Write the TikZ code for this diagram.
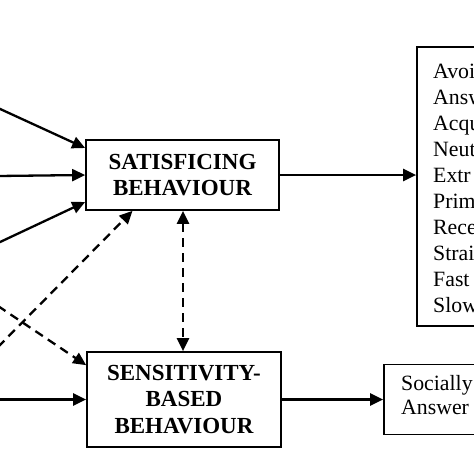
\documentclass[tikz,border=0pt]{standalone}
\usepackage{fontspec}
\setmainfont{Liberation Serif}
\usetikzlibrary{arrows.meta,positioning}
\tikzset{
  box/.style={draw, line width=1.7pt, rectangle, inner sep=0pt, align=center},
  boldtxt/.style={font=\bfseries\fontsize{23}{26.5}\selectfont},
  plaintxt/.style={font=\fontsize{21.8}{24}\selectfont, inner sep=0pt, anchor=base west},
  arr/.style={line width=2.3pt, -{Triangle[length=13pt,width=12pt]}},
  darr/.style={arr, dash pattern=on 9pt off 6pt},
  ddarr/.style={line width=2.3pt, dash pattern=on 9pt off 6pt, {Triangle[length=13pt,width=12pt]}-{Triangle[length=13pt,width=12pt]}},
}
\begin{document}
\begin{tikzpicture}[x=1pt,y=-1pt]
\useasboundingbox (0,0) rectangle (474,474);
\fill[white] (0,0) rectangle (474,474);
\begin{scope}
\clip (0,0) rectangle (474,474);
\node[box, boldtxt, minimum width=193pt, minimum height=70pt] (sat) at (182.5,175) {SATISFICING\\BEHAVIOUR};
\node[box, boldtxt, minimum width=194pt, minimum height=95pt] (sens) at (184,399.5) {SENSITIVITY-\\BASED\\BEHAVIOUR};
\node[box, minimum width=103pt, minimum height=279pt] (list) at (468.5,186.5) {};
\node[box, minimum width=136pt, minimum height=70pt] (soc) at (452,399.5) {};
\node[plaintxt] (l1) at (433,78) {Avoi};
\node[plaintxt] (l2) at (433,104) {Answ};
\node[plaintxt] (l3) at (433,130) {Acqu};
\node[plaintxt] (l4) at (433,156) {Neut};
\node[plaintxt] (l5) at (433,182) {Extr};
\node[plaintxt] (l6) at (433,208) {Prim};
\node[plaintxt] (l7) at (433,234) {Rece};
\node[plaintxt] (l8) at (433,260) {Strai};
\node[plaintxt] (l9) at (433,286) {Fast};
\node[plaintxt] (l10) at (433,312) {Slow};
\node[plaintxt] (s1t) at (401,390) {Socially};
\node[plaintxt] (s2t) at (401,414) {Answer};
\coordinate (s1) at (-2,108);
\coordinate (s2) at (-2,176);
\coordinate (s3) at (-2,243);
\coordinate (d1) at (-2,347);
\coordinate (d2) at (-2,306);
\coordinate (s4) at (-2,399.5);
\draw[arr] (s1) -- ([yshift=27pt]sat.west);
\draw[arr] (s2) -- (sat.west);
\draw[arr] (s3) -- ([yshift=-27pt]sat.west);
\draw[darr] (d1) -- ([xshift=-50pt]sat.south);
\draw[darr] (d2) -- ([yshift=-14pt]sens.north west);
\draw[arr] (s4) -- (sens.west);
\draw[ddarr] ([xshift=0.5pt]sat.south) -- ([xshift=0.5pt]sat.south |- sens.north);
\draw[arr] (sat.east) -- (sat.east -| list.west);
\draw[arr] (sens.east) -- (soc.west);
\end{scope}
\end{tikzpicture}
\end{document}
